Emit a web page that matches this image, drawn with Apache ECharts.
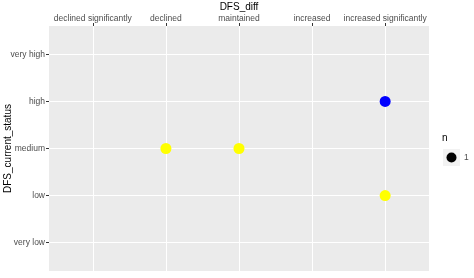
<!DOCTYPE html>
<html><head><meta charset="utf-8">
<script src="https://cdn.jsdelivr.net/npm/echarts@6/dist/echarts.min.js"></script>
<style>html,body{margin:0;padding:0;background:#fff}#c{width:474px;height:278px}</style>
</head><body><div id="c"></div>
<script>
var xCategories = ["declined significantly", "declined", "maintained", "increased", "increased significantly"];
var yCategories = ["very low", "low", "medium", "high", "very high"];
var pointX = ["declined", "maintained", "increased significantly", "increased significantly"];
var pointY = ["medium", "medium", "low", "high"];
var pointColor = ["#FFFF00", "#FFFF00", "#FFFF00", "#0000FF"];
var pointN = [1, 1, 1, 1];
var sizeLegendValues = [1];

var data = pointX.map(function (x, i) {
  return { value: [xCategories.indexOf(x), yCategories.indexOf(pointY[i]), pointN[i]], itemStyle: { color: pointColor[i] } };
});
var xIdx = xCategories.map(function (_, i) { return i; });
var yIdx = yCategories.map(function (_, i) { return i; });
var font = "Liberation Sans, Arial, sans-serif";

var chart = echarts.init(document.getElementById('c'), null, { renderer: 'canvas' });
chart.setOption({
  animation: false,
  grid: { left: 49, right: 45, top: 26, bottom: 7, show: true, backgroundColor: '#EBEBEB', borderWidth: 0,
    containLabel: false, outerBoundsMode: 'none' },
  xAxis: {
    type: 'value', position: 'top', min: -0.6, max: 4.6,
    name: 'DFS_diff', nameLocation: 'middle', nameGap: 19, nameMoveOverlap: false,
    nameTextStyle: { fontFamily: font, fontSize: 10, color: '#000', verticalAlign: 'middle' },
    axisLine: { show: false, onZero: false },
    axisTick: { show: true, length: 3, lineStyle: { color: '#333' }, customValues: xIdx },
    axisLabel: { customValues: xIdx, margin: 3, fontFamily: font, fontSize: 8.5, color: '#4D4D4D',
      formatter: function (v) { return xCategories[Math.round(v)]; } },
    splitLine: { show: true, lineStyle: { color: '#FFFFFF', width: 1 } }
  },
  yAxis: {
    type: 'value', min: -0.6, max: 4.6,
    name: 'DFS_current_status', nameLocation: 'middle', nameGap: 41, nameRotate: 90, nameMoveOverlap: false,
    nameTextStyle: { fontFamily: font, fontSize: 10, color: '#000', verticalAlign: 'middle' },
    axisLine: { show: false, onZero: false },
    axisTick: { show: true, length: 3, lineStyle: { color: '#333' }, customValues: yIdx },
    axisLabel: { customValues: yIdx, margin: 4, fontFamily: font, fontSize: 8.5, color: '#4D4D4D',
      formatter: function (v) { return yCategories[Math.round(v)]; } },
    splitLine: { show: true, lineStyle: { color: '#FFFFFF', width: 1 } }
  },
  series: [{
    type: 'scatter', data: data, symbolSize: 11, itemStyle: { opacity: 1 }
  }],
  graphic: [
    { type: 'text', left: 442, top: 133, style: { text: 'n', fontFamily: font, fontSize: 10, fill: '#000' } },
    { type: 'rect', shape: { x: 443, y: 149, width: 17, height: 17 }, style: { fill: '#F2F2F2' } },
    { type: 'circle', shape: { cx: 451.5, cy: 157.5, r: 5 }, style: { fill: '#000' } },
    { type: 'text', left: 464, top: 153, style: { text: String(sizeLegendValues[0]), fontFamily: font, fontSize: 8.5, fill: '#4D4D4D' } }
  ]
});
</script></body></html>
